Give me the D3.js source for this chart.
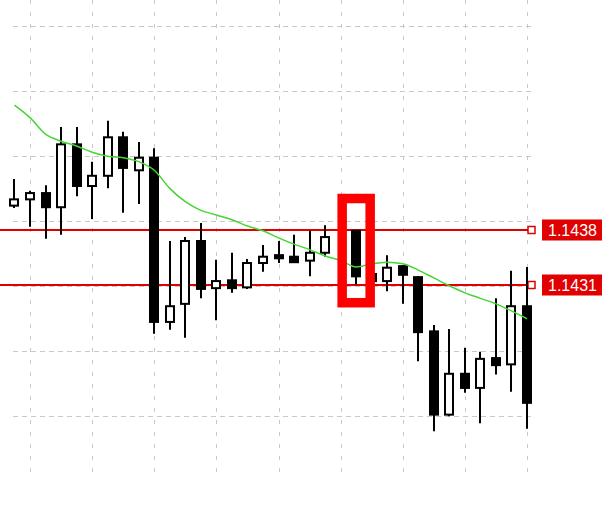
<!DOCTYPE html>
<html>
<head>
<meta charset="utf-8">
<script src="https://cdn.jsdelivr.net/npm/d3@7"></script>
<style>
  html, body { margin: 0; padding: 0; background: #fff; }
  svg { display: block; }
</style>
</head>
<body>
<div id="chart"></div>
<script>
// bars, left to right (bar 21 sits behind the highlight box, nothing to read)
const open  = [1.14411, 1.14419, 1.14427, 1.14409, 1.14489, 1.14436, 1.14449, 1.14498, 1.14456, 1.14472,
               1.14263, 1.14286, 1.14366, 1.14306, 1.14316, 1.14307, 1.14338, 1.14348, 1.14346, 1.14341,
               1.14351, null, 1.14379, 1.14324, 1.14315, 1.14334, 1.14320, 1.14251, 1.14145, 1.14197,
               1.14179, 1.14217, 1.14209, 1.14283]
const high  = [1.14445, 1.14430, 1.14437, 1.14511, 1.14511, 1.14467, 1.14519, 1.14505, 1.14492, 1.14484,
               1.14366, 1.14371, 1.14389, 1.14342, 1.14351, 1.14343, 1.14361, 1.14366, 1.14374, 1.14379,
               1.14386, null, 1.14380, 1.14327, 1.14348, 1.14335, 1.14321, 1.14259, 1.14254, 1.14230,
               1.14225, 1.14293, 1.14328, 1.14333]
const low   = [1.14408, 1.14384, 1.14369, 1.14374, 1.14423, 1.14394, 1.14433, 1.14402, 1.14413, 1.14248,
               1.14253, 1.14243, 1.14293, 1.14265, 1.14300, 1.14305, 1.14327, 1.14338, 1.14338, 1.14321,
               1.14346, null, 1.14311, 1.14311, 1.14302, 1.14286, 1.14213, 1.14124, 1.14143, 1.14173,
               1.14134, 1.14196, 1.14174, 1.14127]
const close = [1.14419, 1.14427, 1.14409, 1.14489, 1.14436, 1.14449, 1.14498, 1.14459, 1.14472, 1.14263,
               1.14283, 1.14366, 1.14305, 1.14315, 1.14306, 1.14338, 1.14346, 1.14344, 1.14339, 1.14351,
               1.14371, null, 1.14321, 1.14315, 1.14332, 1.14323, 1.14250, 1.14145, 1.14197, 1.14179,
               1.14216, 1.14208, 1.14283, 1.14160]

// moving average
const ma = [1.14539, 1.14523, 1.14502, 1.14493, 1.14487, 1.14479, 1.14474, 1.14472, 1.14467, 1.14456,
            1.14433, 1.14416, 1.14405, 1.14399, 1.14393, 1.14385, 1.14379, 1.14370, 1.14362, 1.14355,
            1.14347, 1.14341, 1.14333, 1.14337, 1.14339, 1.14337, 1.14329, 1.14319, 1.14309, 1.14300,
            1.14293, 1.14286, 1.14277, 1.14267]

// grid
const gridPrices = [1.14640, 1.14557, 1.14474, 1.14392, 1.14309, 1.14226, 1.14143]
const gridBars = [1, 5, 9, 13, 17, 21, 25, 29, 33]

// horizontal levels
const levels = [1.1438, 1.1431]
const levelLabels = ["1.1438", "1.1431"]
const highlightBar = 22

const data = open.map((o, i) => ({
  i, open: o, high: high[i], low: low[i], close: close[i]
})).filter(d => d.open != null)

const W = 602, H = 523

const x = d3.scaleLinear().domain([1, 33]).range([30, 527])
const y = d3.scaleLinear().domain([1.1431, 1.1438]).range([285, 230])

const svg = d3.select('#chart')
  .append('svg')
  .attr('width', W)
  .attr('height', H)
  .attr('viewBox', [0, 0, W, H])

svg.append('rect').attr('width', W).attr('height', H).attr('fill', '#fff')

// grid lines
svg.append('g')
  .selectAll('line')
  .data(gridPrices)
  .join('line')
  .attr('x1', 13).attr('x2', 533)
  .attr('y1', d => Math.round(y(d)) + 0.5)
  .attr('y2', d => Math.round(y(d)) + 0.5)
  .attr('stroke', '#c8c8c8')
  .attr('stroke-dasharray', '5,4')

svg.append('g')
  .selectAll('line')
  .data(gridBars)
  .join('line')
  .attr('x1', d => Math.round(x(d)) + 0.5)
  .attr('x2', d => Math.round(x(d)) + 0.5)
  .attr('y1', 0).attr('y2', 477)
  .attr('stroke', '#c8c8c8')
  .attr('stroke-dasharray', '4,8')

// red levels
const lv = svg.append('g')
lv.selectAll('line')
  .data(levels)
  .join('line')
  .attr('x1', 0).attr('x2', 528)
  .attr('y1', d => y(d)).attr('y2', d => y(d))
  .attr('stroke', '#e00000')
  .attr('stroke-width', 2)

lv.selectAll('rect.mk')
  .data(levels)
  .join('rect')
  .attr('class', 'mk')
  .attr('x', 528).attr('y', d => y(d) - 3.5)
  .attr('width', 7).attr('height', 7)
  .attr('fill', '#fff')
  .attr('stroke', '#e00000')
  .attr('stroke-width', 1.5)

// candles
const bars = svg.append('g')
  .selectAll('g')
  .data(data)
  .join('g')

bars.append('line')
  .attr('x1', d => Math.round(x(d.i)))
  .attr('x2', d => Math.round(x(d.i)))
  .attr('y1', d => y(d.high))
  .attr('y2', d => y(d.low))
  .attr('stroke', '#000')
  .attr('stroke-width', 2)

bars.append('rect')
  .attr('x', d => Math.round(x(d.i)) - 4)
  .attr('width', 8)
  .attr('y', d => y(Math.max(d.open, d.close)))
  .attr('height', d => Math.max(1, Math.abs(y(d.open) - y(d.close))))
  .attr('fill', d => d.close >= d.open ? '#fff' : '#000')
  .attr('stroke', '#000')
  .attr('stroke-width', 2)

// moving average, drawn over the bars
const line = d3.line()
  .x((d, i) => x(i))
  .y(d => y(d))
  .curve(d3.curveMonotoneX)

svg.append('path')
  .datum(ma)
  .attr('d', line)
  .attr('fill', 'none')
  .attr('stroke', '#44d633')
  .attr('stroke-width', 1.5)

// highlight box round one bar
const hb = data.find(d => d.i === highlightBar)
svg.append('rect')
  .attr('x', x(highlightBar) - 14)
  .attr('width', 28)
  .attr('y', y(hb.high) - 31.5)
  .attr('height', y(hb.low) - y(hb.high) + 50)
  .attr('fill', 'none')
  .attr('stroke', '#ff0000')
  .attr('stroke-width', 9.5)

// price labels
const lab = svg.append('g')
  .selectAll('g')
  .data(levels)
  .join('g')
  .attr('transform', d => `translate(542,${y(d)})`)

lab.append('rect')
  .attr('x', 0).attr('y', -10.5)
  .attr('width', 62).attr('height', 21)
  .attr('fill', '#e00000')

lab.append('text')
  .attr('x', 6).attr('y', 6)
  .attr('fill', '#fff')
  .attr('font-family', 'Liberation Sans, Arial, sans-serif')
  .attr('font-size', 16)
  .text((d, i) => levelLabels[i])
</script>
</body>
</html>
